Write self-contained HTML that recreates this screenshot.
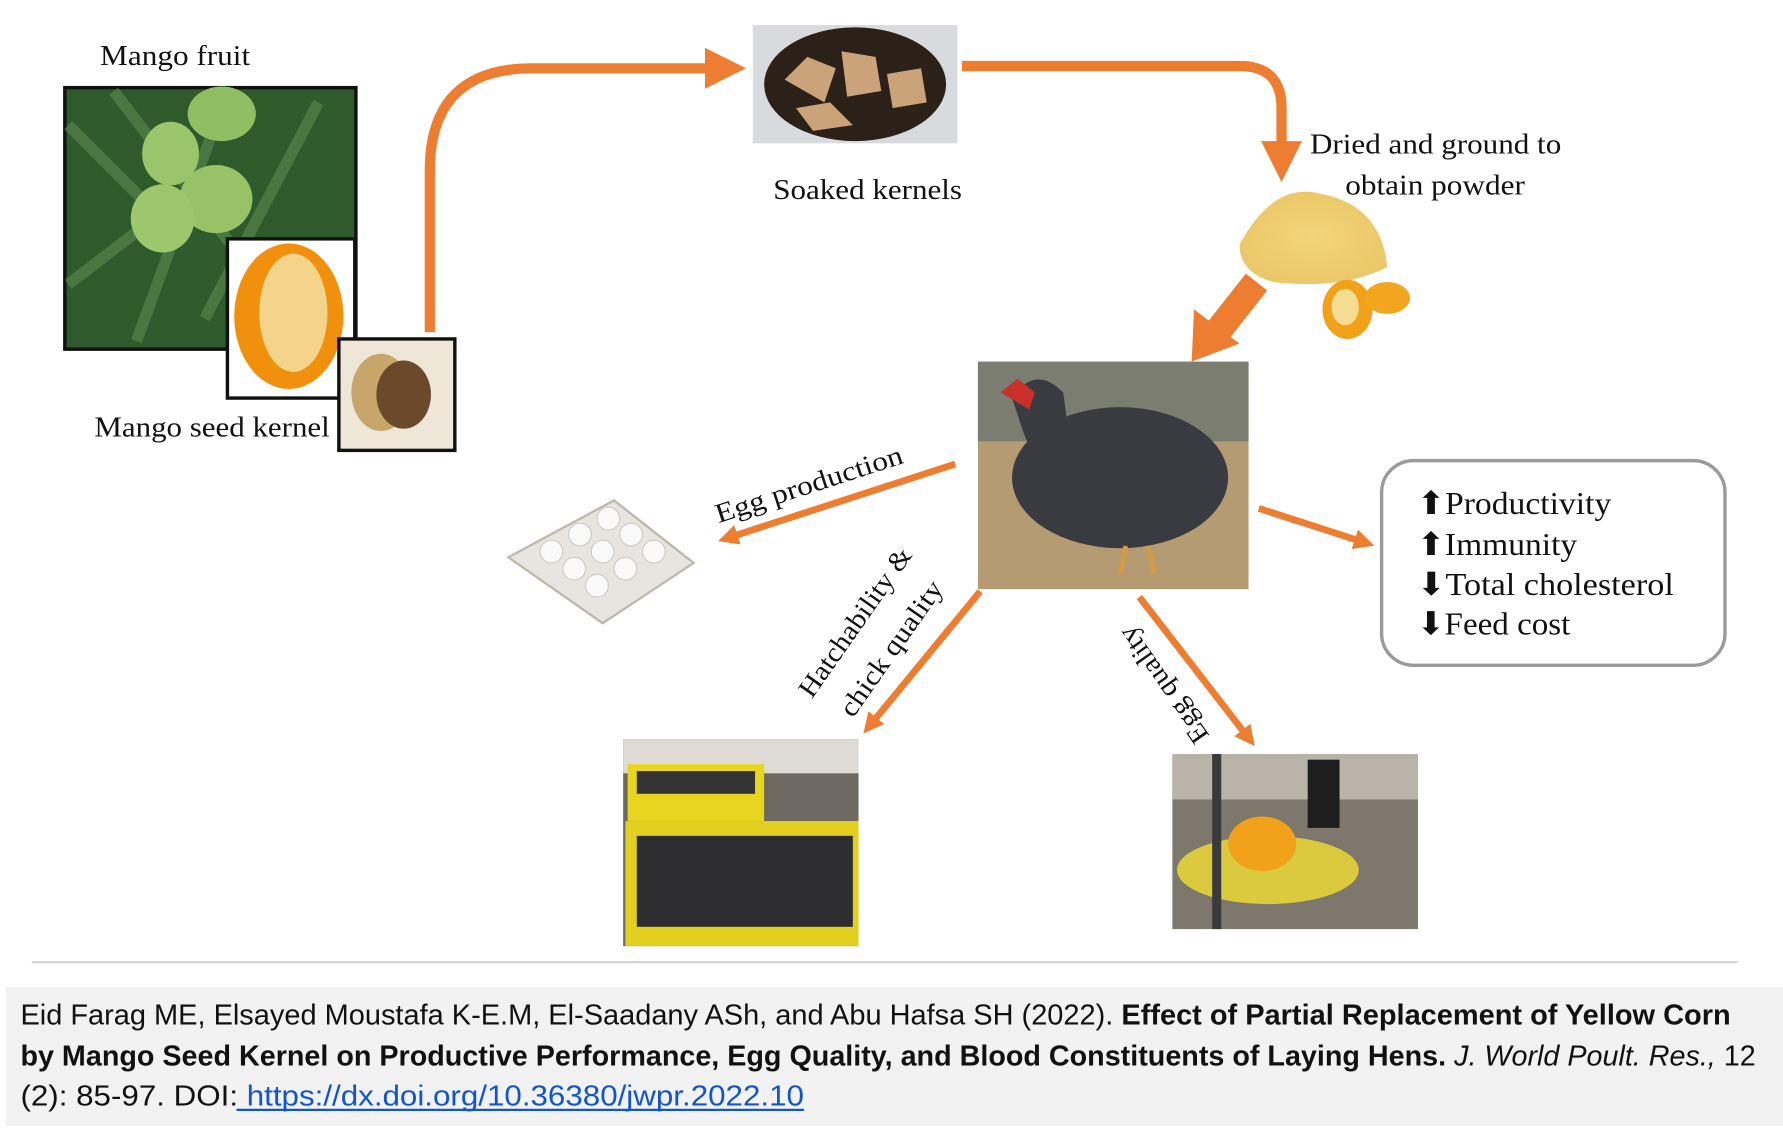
<!DOCTYPE html>
<html><head><meta charset="utf-8"><style>
html,body{margin:0;padding:0;background:#fff;}
svg{display:block;}
.s{font-family:"Liberation Serif",serif;fill:#111;}
.c{font-family:"Liberation Sans",sans-serif;fill:#111;font-size:25px;}
</style></head><body>
<svg width="1783" height="1135" viewBox="0 0 1568 998" xmlns="http://www.w3.org/2000/svg">
<defs>
<marker id="ah" markerWidth="4" markerHeight="4" refX="2" refY="2" orient="auto" markerUnits="strokeWidth"><path d="M0,0 L4,2 L0,4 z" fill="#ED7D31"/></marker>
<marker id="ah2" markerWidth="3" markerHeight="3" refX="1.5" refY="1.5" orient="auto" markerUnits="strokeWidth"><path d="M0,0 L3,1.5 L0,3 z" fill="#ED7D31"/></marker>
<radialGradient id="pw" cx="50%" cy="50%" r="50%"><stop offset="0" stop-color="#f3d57a"/><stop offset="1" stop-color="#e9c35a" stop-opacity="0.9"/></radialGradient>
</defs>
<rect width="1568" height="998" fill="#fff"/>

<!-- Mango -->
<text class="s" x="88" y="57" font-size="25" textLength="132" lengthAdjust="spacingAndGlyphs">Mango fruit</text>
<rect x="57" y="77" width="256" height="230" fill="#2f5a2c" stroke="#111" stroke-width="3"/>
<path d="M60,110 L150,200 M100,80 L230,250 M200,80 L120,300 M280,90 L180,280 M60,250 L190,150" stroke="#5d8a4e" stroke-width="10" opacity="0.6"/>
<ellipse cx="195" cy="100" rx="30" ry="24" fill="#8fbf62"/>
<ellipse cx="150" cy="135" rx="25" ry="28" fill="#9bc56b"/>
<ellipse cx="190" cy="175" rx="32" ry="30" fill="#98c267"/>
<ellipse cx="143" cy="192" rx="28" ry="30" fill="#9cc76d"/>
<rect x="200" y="210" width="112" height="140" fill="#fff" stroke="#111" stroke-width="3"/>
<ellipse cx="254" cy="278" rx="48" ry="64" fill="#f0900c"/>
<ellipse cx="258" cy="275" rx="30" ry="52" fill="#f3d48a"/>
<rect x="298" y="298" width="102" height="98" fill="#eee7d8" stroke="#111" stroke-width="3"/>
<ellipse cx="335" cy="345" rx="26" ry="34" fill="#c8a56a"/>
<ellipse cx="355" cy="347" rx="24" ry="30" fill="#6b4a2c"/>
<text class="s" x="83" y="384" font-size="25" textLength="207" lengthAdjust="spacingAndGlyphs">Mango seed kernel</text>

<!-- arrow 1 -->
<path d="M378,292 L378,150 Q378,60 468,60 L638,60" fill="none" stroke="#ED7D31" stroke-width="9" marker-end="url(#ah)"/>

<!-- soaked -->
<rect x="662" y="22" width="180" height="104" fill="#d8dadd"/>
<ellipse cx="752" cy="74" rx="80" ry="50" fill="#2b2118"/>
<path d="M690,70 l20,-20 l25,10 l-10,30z M740,45 l30,5 l5,30 l-30,5z M780,65 l30,-5 l5,30 l-30,5z M700,95 l30,-5 l20,20 l-35,5z" fill="#cba37a"/>
<text class="s" x="680" y="175" font-size="25" textLength="166" lengthAdjust="spacingAndGlyphs">Soaked kernels</text>

<!-- arrow 2 -->
<path d="M846,58 L1090,58 Q1127,58 1127,95 L1127,142" fill="none" stroke="#ED7D31" stroke-width="9" marker-end="url(#ah)"/>
<text class="s" x="1152" y="135" font-size="25" textLength="221" lengthAdjust="spacingAndGlyphs">Dried and ground to</text>
<text class="s" x="1183" y="171" font-size="25" textLength="158" lengthAdjust="spacingAndGlyphs">obtain powder</text>

<!-- powder -->
<path d="M1090,215 Q1120,160 1160,170 Q1215,180 1220,235 Q1180,255 1120,248 Q1090,240 1090,215z" fill="url(#pw)"/>
<ellipse cx="1185" cy="272" rx="22" ry="26" fill="#f1a21a"/>
<ellipse cx="1183" cy="270" rx="12" ry="16" fill="#f6dc92"/>
<ellipse cx="1220" cy="262" rx="20" ry="14" fill="#f2a51e"/>

<!-- thick arrow -->
<path d="M1105,248 L1068,295" stroke="#ED7D31" stroke-width="24" fill="none"/>
<path d="M1048,318 L1050,272 L1090,302 z" fill="#ED7D31"/>

<!-- hen -->
<rect x="860" y="318" width="238" height="200" fill="#b59b72"/>
<rect x="860" y="318" width="238" height="70" fill="#7a7d70"/>
<ellipse cx="985" cy="420" rx="95" ry="62" fill="#3a3b40"/>
<path d="M890,350 Q910,320 935,345 L945,420 Q910,410 900,380z" fill="#3a3b40"/>
<path d="M880,345 l15,-12 l15,12 l-5,15z" fill="#c8302a"/>
<path d="M990,480 l-5,25 M1010,480 l5,25" stroke="#d79a40" stroke-width="4"/>

<!-- egg production -->
<path d="M840,408 L640,473" fill="none" stroke="#ED7D31" stroke-width="6" marker-end="url(#ah2)"/>
<text class="s" font-size="24" transform="translate(632,460) rotate(-18)" textLength="172" lengthAdjust="spacingAndGlyphs">Egg production</text>
<path d="M447,490 L540,440 L610,495 L530,548 z" fill="#e8e4df" stroke="#bdb7b0" stroke-width="2"/>
<g fill="#fafafa" stroke="#cfcac3">
<circle cx="485" cy="485" r="10"/><circle cx="510" cy="470" r="10"/><circle cx="535" cy="456" r="10"/>
<circle cx="505" cy="500" r="10"/><circle cx="530" cy="485" r="10"/><circle cx="555" cy="470" r="10"/>
<circle cx="525" cy="515" r="10"/><circle cx="550" cy="500" r="10"/><circle cx="575" cy="485" r="10"/>
</g>

<!-- hatchability -->
<path d="M862,520 L765,638" fill="none" stroke="#ED7D31" stroke-width="6" marker-end="url(#ah2)"/>
<text class="s" font-size="24" transform="translate(714,615) rotate(-55)" textLength="155" lengthAdjust="spacingAndGlyphs">Hatchability &amp;</text>
<text class="s" font-size="24" transform="translate(750,632) rotate(-55)" textLength="140" lengthAdjust="spacingAndGlyphs">chick quality</text>
<rect x="548" y="650" width="207" height="182" fill="#6e6a62"/>
<rect x="548" y="650" width="207" height="30" fill="#dedad4"/>
<rect x="552" y="672" width="120" height="50" fill="#e8d51f"/>
<rect x="560" y="678" width="104" height="20" fill="#333"/>
<rect x="550" y="722" width="205" height="110" fill="#e3cf1f"/>
<rect x="560" y="735" width="190" height="80" fill="#2d2c2f"/>

<!-- egg quality -->
<path d="M1002,525 L1098,649" fill="none" stroke="#ED7D31" stroke-width="6" marker-end="url(#ah2)"/>
<text class="s" font-size="24" transform="translate(1064,647) rotate(-125)" textLength="120" lengthAdjust="spacingAndGlyphs">Egg quality</text>
<rect x="1031" y="663" width="216" height="154" fill="#7d776c"/>
<rect x="1031" y="663" width="216" height="40" fill="#b9b3a8"/>
<ellipse cx="1115" cy="765" rx="80" ry="30" fill="#e6d23a" opacity="0.9"/>
<ellipse cx="1110" cy="742" rx="30" ry="24" fill="#f2a21a"/>
<rect x="1066" y="663" width="8" height="154" fill="#3a3a3a"/>
<rect x="1150" y="668" width="28" height="60" fill="#1e1e1e"/>

<!-- arrow to box -->
<path d="M1107,447 L1200,477" fill="none" stroke="#ED7D31" stroke-width="6" marker-end="url(#ah2)"/>
<rect x="1215" y="405" width="302" height="180" rx="28" fill="#fff" stroke="#9a9a9a" stroke-width="3"/>
<text class="s" x="1246" y="452" font-size="28" textLength="171" lengthAdjust="spacingAndGlyphs">⬆Productivity</text>
<text class="s" x="1246" y="488" font-size="28" textLength="141" lengthAdjust="spacingAndGlyphs">⬆Immunity</text>
<text class="s" x="1246" y="523" font-size="28" textLength="226" lengthAdjust="spacingAndGlyphs">⬇Total cholesterol</text>
<text class="s" x="1246" y="558" font-size="28" textLength="135" lengthAdjust="spacingAndGlyphs">⬇Feed cost</text>

<!-- footer -->
<line x1="28" y1="846" x2="1528" y2="846" stroke="#d4d4d4" stroke-width="2"/>
<rect x="5" y="868" width="1563" height="122" fill="#f2f2f2"/>
<text class="c" x="18" y="901" textLength="1504" lengthAdjust="spacingAndGlyphs">Eid Farag ME, Elsayed Moustafa K-E.M, El-Saadany ASh, and Abu Hafsa SH (2022). <tspan font-weight="bold">Effect of Partial Replacement of Yellow Corn</tspan></text>
<text class="c" x="18" y="937" textLength="1526" lengthAdjust="spacingAndGlyphs"><tspan font-weight="bold">by Mango Seed Kernel on Productive Performance, Egg Quality, and Blood Constituents of Laying Hens.</tspan> <tspan font-style="italic">J. World Poult. Res.,</tspan> 12</text>
<text class="c" x="18" y="972" textLength="689" lengthAdjust="spacingAndGlyphs">(2): 85-97. DOI: <tspan fill="#1155cc">https://dx.doi.org/10.36380/jwpr.2022.10</tspan></text>
<line x1="208" y1="976" x2="707" y2="976" stroke="#1155cc" stroke-width="2"/>
</svg>
</body></html>
